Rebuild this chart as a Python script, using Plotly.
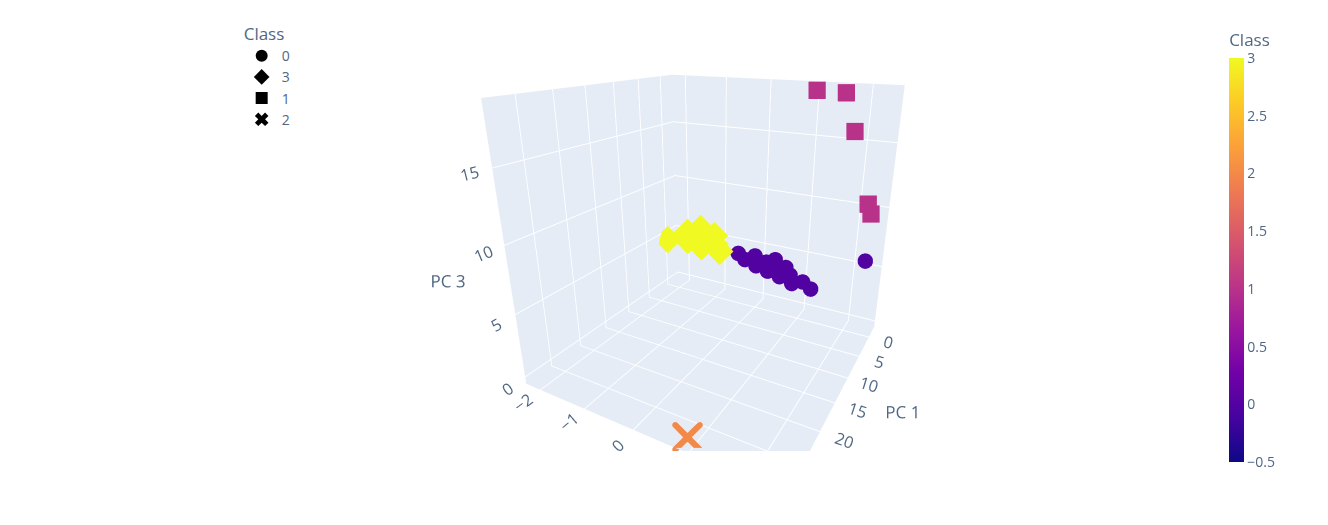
import plotly.graph_objects as go

# data per class: PC1, PC2, PC3
c0_pc1 = [0.5, 1, 0.5, 1.5, 1, 2, 1.5, 2.5, 2, 3, 2.5, 3, 1, 2, 0]
c0_pc2 = [-0.4, -0.2, 0.0, 0.1, 0.3, 0.4, 0.6, 0.7, 0.9, 1.0, 1.2, 1.4, 0.5, 0.8, 2.3]
c0_pc3 = [4.5, 4.2, 4.6, 4.0, 4.4, 3.9, 4.3, 3.8, 4.0, 3.6, 3.8, 3.5, 4.8, 4.6, 6.0]
c3_pc1 = [1, 0.5, 1.5, 0, 1, 2, 0.5, 1.5, 2.5]
c3_pc2 = [-2.2, -1.7, -1.6, -1.4, -1.3, -1.2, -1.0, -0.9, -0.7]
c3_pc3 = [4.5, 5.5, 5.0, 6.0, 5.6, 4.8, 5.7, 5.2, 4.9]
c1_pc1 = [-2, -1, 1, 2, 3]
c1_pc2 = [1.0, 1.6, 1.9, 2.3, 2.4]
c1_pc3 = [18.5, 18.5, 16, 11, 10.5]
c2_pc1 = [28]
c2_pc2 = [0.9]
c2_pc3 = [0]

groups = [("0", 0, "circle", c0_pc1, c0_pc2, c0_pc3, 9),
          ("3", 3, "diamond", c3_pc1, c3_pc2, c3_pc3, 9),
          ("1", 1, "square", c1_pc1, c1_pc2, c1_pc3, 9),
          ("2", 2, "x", c2_pc1, c2_pc2, c2_pc3, 7)]

fig = go.Figure()
for name, cls, sym, x, y, z, sz in groups:
    fig.add_trace(go.Scatter3d(
        x=x, y=y, z=z, mode="markers", name=name, legendgroup=name,
        marker=dict(symbol=sym, size=sz, color=[cls] * len(x), coloraxis="coloraxis"),
    ))

fig.update_layout(
    width=1328, height=525, template="plotly",
    font=dict(size=14, color="#506784"),
    margin=dict(l=20, r=80, t=10, b=0),
    legend=dict(title=dict(text="Class"), x=0.174, y=1.0, itemsizing="constant", tracegroupgap=0),
    coloraxis=dict(colorscale="Plasma", cmin=-0.5, cmax=3,
                   colorbar=dict(title=dict(text="Class"), x=0.970, y=0.996, yanchor="top",
                                 lenmode="pixels", len=452, thickness=15)),
    scene=dict(
        xaxis=dict(title="PC 1", dtick=5), yaxis=dict(title="PC 2", dtick=1), zaxis=dict(title="PC 3", dtick=5),
        camera=dict(eye=dict(x=1.53, y=0.85, z=0.68)),
        domain=dict(x=[0.155, 0.965], y=[0.16, 1.0]),
    ),
)
fig.write_html("out.html")
